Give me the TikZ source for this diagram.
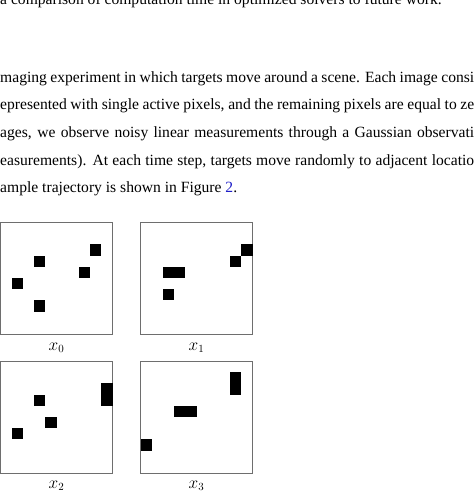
\documentclass[tikz,border=0pt]{standalone}
\usepackage{fontspec}
\setmainfont{Liberation Serif}
\usetikzlibrary{positioning, calc}
\definecolor{linkblue}{RGB}{30,30,200}
\definecolor{framegray}{RGB}{110,110,110}
\tikzset{
  bodytxt/.style={
    anchor=base west, inner sep=0pt,
    font=\fontsize{15.6}{18}\selectfont
  },
  panel/.style={
    draw=framegray, line width=0.9pt, rectangle,
    minimum size=112pt, inner sep=0pt, outer sep=0pt
  },
  panlbl/.style={font=\fontsize{16}{18}\selectfont, inner sep=0pt},
  pixfill/.style={fill=black},
}
\newcommand{\tgt}[3]{\fill[pixfill] ($(#1.north west)+(#2*11.2,-#3*11.2)$) rectangle ++(11.2,-11.2);}

\begin{document}
\begin{tikzpicture}[x=1pt, y=1pt]
    \useasboundingbox (0,0) rectangle (474,-495);
    \clip (0,0) rectangle (474,-495);
    % running text above the figure
    \node[bodytxt] (t0) at (0,-5)     {a comparison of computation time in optimized solvers to future work.};
    \node[bodytxt] (t1) at (0,-82)    {\makebox[474pt][s]{maging experiment in which targets move around a scene. Each image consi}};
    \node[bodytxt] (t2) at (0,-109.5) {\makebox[474pt][s]{epresented with single active pixels, and the remaining pixels are equal to ze}};
    \node[bodytxt] (t3) at (0,-137.3) {\makebox[474pt][s]{ages, we observe noisy linear measurements through a Gaussian observati}};
    \node[bodytxt] (t4) at (0,-165)   {\makebox[474pt][s]{easurements). At each time step, targets move randomly to adjacent locatio}};
    \node[bodytxt] (t5) at (0,-192.7) {ample trajectory is shown in Figure \textcolor{linkblue}{2}.};
    % image panels
    \node[panel] (P0) at (56.5,-278) {};
    \node[panel, right=28pt of P0] (P1) {};
    \node[panel, below=27pt of P0] (P2) {};
    \node[panel, right=28pt of P2] (P3) {};
    \node[panlbl, below=16pt of P0, anchor=base] (L0) {$x_0$};
    \node[panlbl, below=16pt of P1, anchor=base] (L1) {$x_1$};
    \node[panlbl, below=15pt of P2, anchor=base] (L2) {$x_2$};
    \node[panlbl, below=15pt of P3, anchor=base] (L3) {$x_3$};
    % active pixels (column/row on a 10x10 grid)
    \foreach \col/\row in {8/2, 3/3, 7/4, 1/5, 3/7} {\tgt{P0}{\col}{\row}}
    \foreach \col/\row in {9/2, 8/3, 2/4, 3/4, 2/6} {\tgt{P1}{\col}{\row}}
    \foreach \col/\row in {9/2, 9/3, 3/3, 4/5, 1/6} {\tgt{P2}{\col}{\row}}
    \foreach \col/\row in {8/1, 8/2, 3/4, 4/4, 0/7} {\tgt{P3}{\col}{\row}}
\end{tikzpicture}
\end{document}
